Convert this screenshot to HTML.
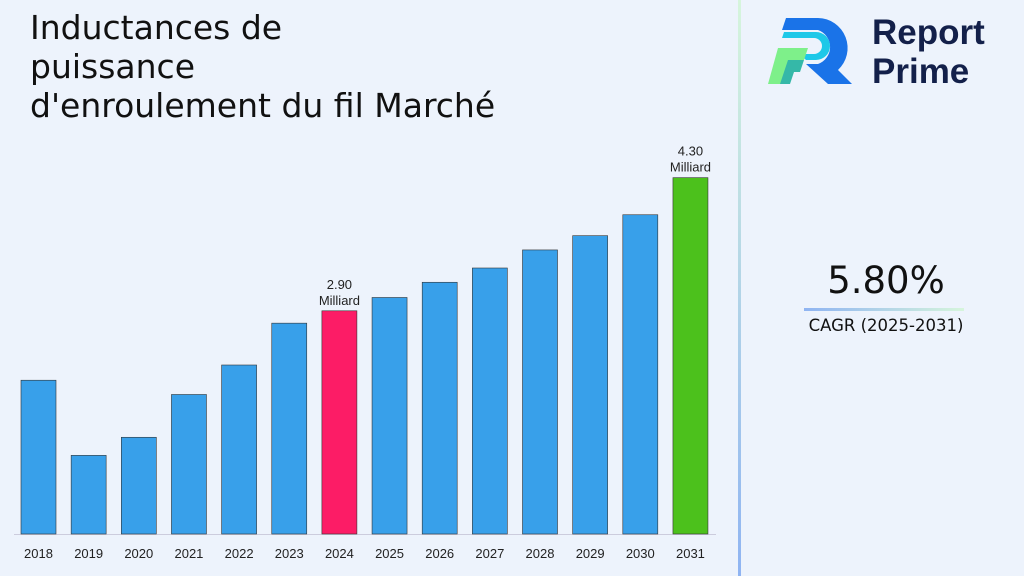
<!DOCTYPE html>
<html><head><meta charset="utf-8"><style>
body{margin:0;width:1024px;height:576px;background:#edf3fc;font-family:"Liberation Sans","DejaVu Sans",sans-serif;position:relative;overflow:hidden}
#title{position:absolute;left:30px;top:8px;font-size:33px;line-height:39px;color:#111;font-family:"DejaVu Sans","Liberation Sans",sans-serif;font-weight:normal}
#divider{position:absolute;left:738px;top:0;width:3px;height:576px;background:linear-gradient(#d6f5dc,#8fb4f2)}
#cagr{position:absolute;left:786px;top:259px;width:200px;text-align:center;font-size:37px;color:#111;font-family:"DejaVu Sans",sans-serif}
#cagr-line{position:absolute;left:804px;top:308px;width:160px;height:3px;background:linear-gradient(90deg,#8fb4f2,#d6f5dc)}
#cagr-label{position:absolute;left:786px;top:316px;width:200px;text-align:center;font-size:16.5px;color:#111;font-family:"DejaVu Sans",sans-serif}
#brand{position:absolute;left:872px;top:13px;font-size:35px;line-height:39px;font-weight:bold;color:#13204a}
</style></head><body>
<div id="title">Inductances de<br>puissance<br>d'enroulement du fil Marché</div>
<div id="divider"></div>
<svg style="position:absolute;left:766px;top:14px" width="92" height="72">
<path d="M20 4 H52 A30 30 0 0 1 72 56 L86 70 H62 L40 50 H52 A18 18 0 0 0 52 16 H16 Z" fill="#1a73e8"/>
<path d="M18 18 H50 A14 14 0 0 1 50 46 H40 L34 40 H48 A8 8 0 0 0 48 24 H16 Z" fill="#1ec8e8"/>
<path d="M12 34 H42 L38 46 H28 L20 70 H2 Z" fill="#7ef08a"/>
<path d="M22 46 H38 L34 58 H28 L24 70 H14 Z" fill="#35b8a8"/>
</svg>
<div id="brand">Report<br>Prime</div>
<div id="cagr">5.80%</div>
<div id="cagr-line"></div>
<div id="cagr-label">CAGR (2025-2031)</div>
<svg id="chart" style="position:absolute;left:0;top:0" width="738" height="576"></svg>
<script>
const years=["2018","2019","2020","2021","2022","2023","2024","2025","2026","2027","2028","2029","2030","2031"];
const values=[2.17,1.38,1.57,2.02,2.33,2.77,2.90,3.04,3.20,3.35,3.54,3.69,3.91,4.30];
const labels={6:"2.90",13:"4.30"};
const base=534,vmin=0.553,k=95.1,x0=21,pitch=50.15,bw=35;
const y=v=>base-(v-vmin)*k;
const svg=document.getElementById('chart');
const NS="http://www.w3.org/2000/svg";
const axis=document.createElementNS(NS,'line');
axis.setAttribute('x1',14);axis.setAttribute('x2',716);axis.setAttribute('y1',base+0.5);axis.setAttribute('y2',base+0.5);axis.setAttribute('stroke','#ccd');


svg.appendChild(axis);
values.forEach((v,i)=>{
 const x=x0+i*pitch;
 const r=document.createElementNS(NS,'rect');
 r.setAttribute('x',x);r.setAttribute('y',y(v));r.setAttribute('width',bw);r.setAttribute('height',base-y(v));
 r.setAttribute('fill',i===6?'#fc1c66':i===13?'#4cc11c':'#38a0ea');r.setAttribute('stroke','#333');r.setAttribute('stroke-width','0.6');
 
 
 svg.appendChild(r);
 const t=document.createElementNS(NS,'text');
 t.setAttribute('x',x+bw/2);t.setAttribute('y',558);t.setAttribute('text-anchor','middle');t.setAttribute('font-size','13');t.setAttribute('fill','#222');
 t.textContent=years[i];
 
 
 svg.appendChild(t);
 if(labels[i]){
  [labels[i],"Milliard"].forEach((s,j)=>{
   const l=document.createElementNS(NS,'text');
   l.setAttribute('x',x+bw/2);l.setAttribute('y',y(v)-22+j*16);l.setAttribute('text-anchor','middle');l.setAttribute('font-size','13');l.setAttribute('fill','#222');
   l.textContent=s;
   
   
   svg.appendChild(l);
  });
 }
});
</script>
</body></html>
